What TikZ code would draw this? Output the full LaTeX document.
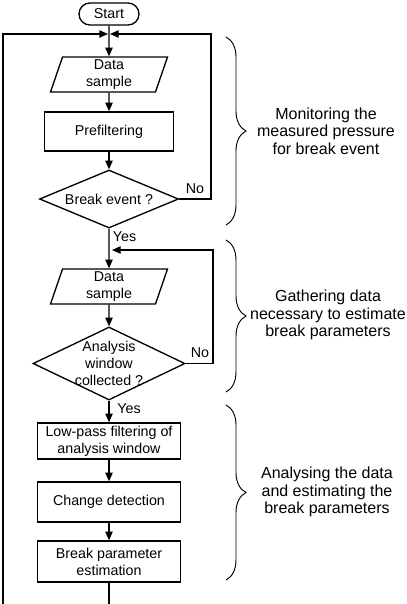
\documentclass[tikz,border=0pt]{standalone}
\usepackage{fontspec}
\setmainfont{Liberation Sans}
\usetikzlibrary{shapes.geometric,shapes.misc,arrows.meta,decorations.pathreplacing}

\begin{document}
\begin{tikzpicture}[x=0.75pt,y=-0.75pt,
    line width=1pt,
    >={Triangle[length=6.5pt,width=5.5pt]},
    font=\fontsize{10.7}{12.75}\selectfont,
    term/.style={rounded rectangle, draw, minimum width=45pt, minimum height=16.5pt, inner sep=0pt},
    io/.style={trapezium, trapezium left angle=68, trapezium right angle=112, trapezium stretches body=true, draw, minimum width=87.75pt, minimum height=26.25pt, inner sep=0pt, align=center},
    proc/.style={rectangle, draw, minimum width=107.25pt, inner sep=0pt, align=center},
    test/.style={diamond, draw, inner sep=0pt},
    note/.style={align=center, font=\fontsize{12}{13.2}\selectfont},
    curly/.style={decorate, decoration={brace, amplitude=15pt}, line width=0.7pt}]
            \useasboundingbox (0,0) rectangle (407,604);
            \clip (0,0) rectangle (407,604);

            % Nodes
            \node[term] (start) at (109,14) {Start};
            \node[io] (in1) at (109,74.5) {Data\\sample};
            \node[proc, minimum width=96.75pt, minimum height=29.25pt] (pre) at (109,131.5) {Prefiltering};
            \node[test, minimum width=104.25pt, minimum height=43.5pt, label={[align=center]center:Break event ?}] (brk) at (109,199) {};
            \node[io] (in2) at (109,286.5) {Data\\sample};
            \node[test, minimum width=114pt, minimum height=54.75pt, label={[align=center]center:Analysis\\window\\collected ?}] (win) at (109,363.5) {};
            \node[proc, minimum height=27pt] (lpf) at (109,441) {Low-pass filtering of\\analysis window};
            \node[proc, minimum height=30pt] (chg) at (109,502) {Change detection};
            \node[proc, minimum height=30.75pt] (est) at (109,561.5) {Break parameter\\estimation};

            % Junctions
            \coordinate (top) at (109,34);
            \coordinate (mid) at (109,250);
            \coordinate (r1) at (211,34);
            \coordinate (r2) at (213,250);
            \coordinate (lb) at (3,620);

            % Edges
            \draw[->] (start) -- (in1);
            \draw[->] (in1) -- (pre);
            \draw[->] (pre) -- (brk);
            \draw[->, shorten >=0.75pt] (brk.east) -| (r1) -- (top);
            \draw[->] (brk) -- (in2);
            \draw[->] (in2) -- (win);
            \draw[->, shorten >=2.25pt] (win.east) -| (r2) -- (mid);
            \draw[->] (win) -- (lpf);
            \draw[->] (lpf) -- (chg);
            \draw[->] (chg) -- (est);
            \draw[->, shorten >=0.75pt] (est) -- (est |- lb) -- (lb) |- (top);

            % Edge labels
            \node (no1) at (195,189) {No};
            \node (yes1) at (124.5,237) {Yes};
            \node (no2) at (200,353) {No};
            \node (yes2) at (129,409) {Yes};

            % Braces
            \draw[curly] (226,37) -- (226,225);
            \draw[curly] (226,240) -- (226,392);
            \draw[curly] (226,405) -- (226,580);
            \node[note] (mon) at (326,131) {Monitoring the\\measured pressure\\for break event};
            \node[note] (gat) at (328,315) {Gathering data\\necessary to estimate\\break parameters};
            \node[note] (ana) at (327,492) {Analysing the data\\and estimating the\\break parameters};
        \end{tikzpicture}
\end{document}
